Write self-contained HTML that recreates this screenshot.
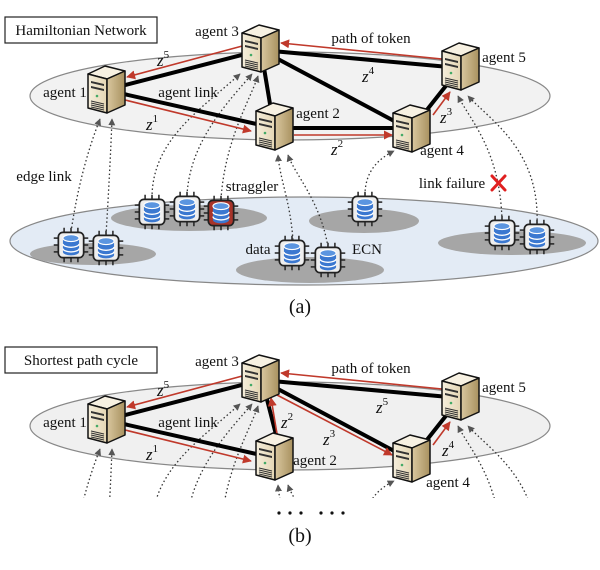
<!DOCTYPE html>
<html><head><meta charset="utf-8"><style>
html,body{margin:0;padding:0;background:#fff;}
svg{display:block;}
text{font-family:"Liberation Serif",serif;fill:#111;}
.lbl{font-size:15px;}
.z{font-size:17px;font-style:italic;}
.sup{font-size:11px;font-style:normal;}
</style></head><body>
<svg width="600" height="570" viewBox="0 0 600 570" xmlns="http://www.w3.org/2000/svg">
<defs>
  <linearGradient id="side" x1="0" x2="1"><stop offset="0" stop-color="#d9c79f"/><stop offset="1" stop-color="#a8915f"/></linearGradient>
  <linearGradient id="front" x1="0" x2="1"><stop offset="0" stop-color="#f5eedc"/><stop offset="1" stop-color="#e4d6b4"/></linearGradient>
  <g id="srv">
    <polygon points="0,8 17,0 37,5 19,13" fill="#f7f1e2" stroke="#111" stroke-width="1.5" stroke-linejoin="round"/>
    <polygon points="0,8 19,13 19,47 0,42" fill="url(#front)" stroke="#111" stroke-width="1.5" stroke-linejoin="round"/>
    <polygon points="19,13 37,5 37,39 19,47" fill="url(#side)" stroke="#111" stroke-width="1.5" stroke-linejoin="round"/>
    <polygon points="3,15 16,18 16,20 3,17" fill="#333"/>
    <polygon points="3,20 16,23 16,25 3,22" fill="#333"/>
    <circle cx="9" cy="30" r="1.3" fill="#4a6"/>
    <g stroke="#333" stroke-width="1"><line x1="3" y1="35" x2="16" y2="38"/><line x1="3" y1="37" x2="16" y2="40"/><line x1="3" y1="39" x2="16" y2="42"/><line x1="3" y1="41" x2="16" y2="44"/></g>
  </g>
  <g id="pins" stroke="#222" stroke-width="1.3">
    <line x1="-6" y1="-15" x2="-6" y2="-11"/><line x1="0" y1="-15" x2="0" y2="-11"/><line x1="6" y1="-15" x2="6" y2="-11"/>
    <line x1="-6" y1="11" x2="-6" y2="15"/><line x1="0" y1="11" x2="0" y2="15"/><line x1="6" y1="11" x2="6" y2="15"/>
    <line x1="-15" y1="-6" x2="-11" y2="-6"/><line x1="-15" y1="0" x2="-11" y2="0"/><line x1="-15" y1="6" x2="-11" y2="6"/>
    <line x1="11" y1="-6" x2="15" y2="-6"/><line x1="11" y1="0" x2="15" y2="0"/><line x1="11" y1="6" x2="15" y2="6"/>
  </g>
  <g id="db">
    <ellipse cx="0" cy="6" rx="7" ry="3" fill="#3b78d0"/>
    <rect x="-7" y="-6" width="14" height="12" fill="#3b78d0"/>
    <path d="M-7,-1 a7,3 0 0 0 14,0 M-7,3 a7,3 0 0 0 14,0" fill="none" stroke="#fff" stroke-width="1.2"/>
    <ellipse cx="0" cy="-6" rx="7" ry="3" fill="#5b95e0" stroke="#fff" stroke-width="1"/>
  </g>
  <g id="chip0">
    <use href="#pins"/>
    <rect x="-11" y="-11" width="22" height="22" rx="4" fill="#eeeeee" stroke="#222" stroke-width="1.5"/>
    <use href="#db"/>
  </g>
  <g id="chip"><g transform="scale(1.15)"><use href="#chip0"/></g></g>
  <g id="chipR"><g transform="scale(1.15)">
    <use href="#pins"/>
    <rect x="-11" y="-11" width="22" height="22" rx="4" fill="#a8342a" stroke="#222" stroke-width="1.5"/>
    <use href="#db"/>
  </g></g>
  <marker id="ar" viewBox="0 0 10 10" refX="9" refY="5" markerWidth="9" markerHeight="9" markerUnits="userSpaceOnUse" orient="auto"><path d="M0,0 L10,5 L0,10 z" fill="#c0392b"/></marker>
  <marker id="ag" viewBox="0 0 10 10" refX="9" refY="5" markerWidth="7" markerHeight="7" markerUnits="userSpaceOnUse" orient="auto"><path d="M0,0 L10,5 L0,10 z" fill="#555"/></marker>
  <g id="dots" fill="none" stroke="#333" stroke-width="1.3" stroke-dasharray="1.5,2.5" marker-end="url(#ag)">
    <path d="M71,232 Q80,170 100,119"/>
    <path d="M106,235 Q110,170 112,119"/>
    <path d="M152,198 C152,140 200,110 240,74"/>
    <path d="M187,195 C190,140 230,100 252,74"/>
    <path d="M221,199 C225,140 250,100 258,76"/>
    <path d="M293,240 C290,200 280,180 278,155"/>
    <path d="M328,247 C320,200 295,175 288,155"/>
    <path d="M365,195 C365,170 380,158 394,151"/>
    <path d="M502,220 C500,150 470,120 458,96"/>
    <path d="M537,224 C540,150 490,120 468,96"/>
  </g>
  <clipPath id="cb"><rect x="0" y="330" width="600" height="168"/></clipPath>
</defs>

<!-- ===== (a) ===== -->
<ellipse cx="304" cy="241" rx="294" ry="44" fill="#e3ebf5" stroke="#888" stroke-width="1.2"/>
<ellipse cx="93" cy="254" rx="63" ry="11" fill="#a6a6a6"/>
<ellipse cx="189" cy="218" rx="78" ry="13" fill="#a6a6a6"/>
<ellipse cx="310" cy="270" rx="74" ry="13" fill="#a6a6a6"/>
<ellipse cx="364" cy="221" rx="55" ry="12" fill="#a6a6a6"/>
<ellipse cx="512" cy="243" rx="74" ry="12" fill="#a6a6a6"/>
<use href="#chip" x="71" y="245"/><use href="#chip" x="106" y="248"/>
<use href="#chip" x="152" y="212"/><use href="#chip" x="187" y="209"/><use href="#chipR" x="221" y="213"/>
<use href="#chip" x="365" y="209"/>
<use href="#chip" x="292" y="253"/><use href="#chip" x="328" y="260"/>
<use href="#chip" x="502" y="233"/><use href="#chip" x="537" y="237"/>

<ellipse cx="290" cy="96" rx="260" ry="44" fill="#f0f0f0" fill-opacity="0.85" stroke="#888" stroke-width="1.2"/>
<use href="#dots"/>

<g stroke="#000" stroke-width="4" stroke-linecap="round">
  <line x1="106" y1="90" x2="261" y2="50"/><line x1="106" y1="90" x2="274" y2="128"/>
  <line x1="261" y1="50" x2="274" y2="128"/><line x1="261" y1="50" x2="460" y2="68"/>
  <line x1="261" y1="50" x2="411" y2="130"/><line x1="274" y1="128" x2="411" y2="128"/>
  <line x1="411" y1="130" x2="460" y2="68"/>
</g>
<g stroke="#c0392b" stroke-width="1.6" marker-end="url(#ar)">
  <line x1="246" y1="45" x2="127" y2="77"/>
  <line x1="125" y1="100" x2="251" y2="131"/>
  <line x1="294" y1="135" x2="392" y2="135"/>
  <line x1="433" y1="115" x2="450" y2="92"/>
  <line x1="442" y1="59" x2="281" y2="43"/>
</g>
<use href="#srv" x="88" y="66"/><use href="#srv" x="242" y="25"/><use href="#srv" x="256" y="103"/>
<use href="#srv" x="393" y="105"/><use href="#srv" x="442" y="43"/>

<rect x="5" y="17" width="152" height="26" fill="#fff" stroke="#222" stroke-width="1.2"/>
<text x="81" y="35" class="lbl" text-anchor="middle">Hamiltonian Network</text>
<text x="217" y="36" class="lbl" text-anchor="middle">agent 3</text>
<text x="371" y="43" class="lbl" text-anchor="middle">path of token</text>
<text x="504" y="62" class="lbl" text-anchor="middle">agent 5</text>
<text x="65" y="97" class="lbl" text-anchor="middle">agent 1</text>
<text x="188" y="97" class="lbl" text-anchor="middle">agent link</text>
<text x="318" y="118" class="lbl" text-anchor="middle">agent 2</text>
<text x="442" y="155" class="lbl" text-anchor="middle">agent 4</text>
<text x="157" y="66" class="z">z<tspan class="sup" dy="-8">5</tspan></text>
<text x="146" y="130" class="z">z<tspan class="sup" dy="-8">1</tspan></text>
<text x="331" y="155" class="z">z<tspan class="sup" dy="-8">2</tspan></text>
<text x="362" y="82" class="z">z<tspan class="sup" dy="-8">4</tspan></text>
<text x="440" y="123" class="z">z<tspan class="sup" dy="-8">3</tspan></text>
<text x="44" y="181" class="lbl" text-anchor="middle">edge link</text>
<text x="252" y="191" class="lbl" text-anchor="middle">straggler</text>
<text x="452" y="188" class="lbl" text-anchor="middle">link failure</text>
<g stroke="#e02020" stroke-width="3" stroke-linecap="round"><line x1="492" y1="176" x2="505" y2="190"/><line x1="505" y1="176" x2="492" y2="190"/></g>
<text x="258" y="254" class="lbl" text-anchor="middle">data</text>
<text x="367" y="254" class="lbl" text-anchor="middle">ECN</text>
<text x="300" y="313" style="font-size:20px" text-anchor="middle">(a)</text>

<!-- ===== (b) ===== -->
<ellipse cx="290" cy="426" rx="260" ry="44" fill="#f0f0f0" stroke="#888" stroke-width="1.2"/>
<g clip-path="url(#cb)"><use href="#dots" y="330"/></g>
<g stroke="#000" stroke-width="4" stroke-linecap="round">
  <line x1="106" y1="420" x2="261" y2="380"/><line x1="106" y1="420" x2="274" y2="458"/>
  <line x1="262" y1="380" x2="282" y2="458"/><line x1="261" y1="380" x2="460" y2="398"/>
  <line x1="261" y1="380" x2="411" y2="460"/><line x1="411" y1="460" x2="460" y2="398"/>
</g>
<g stroke="#c0392b" stroke-width="1.6" marker-end="url(#ar)">
  <line x1="246" y1="375" x2="127" y2="407"/>
  <line x1="125" y1="430" x2="251" y2="461"/>
  <line x1="277" y1="434" x2="271" y2="398"/>
  <line x1="277" y1="395" x2="392" y2="455"/>
  <line x1="433" y1="445" x2="450" y2="422"/>
  <line x1="442" y1="389" x2="281" y2="373"/>
</g>
<use href="#srv" x="88" y="396"/><use href="#srv" x="242" y="355"/><use href="#srv" x="256" y="433"/>
<use href="#srv" x="393" y="435"/><use href="#srv" x="442" y="373"/>

<rect x="5" y="347" width="152" height="26" fill="#fff" stroke="#222" stroke-width="1.2"/>
<text x="81" y="365" class="lbl" text-anchor="middle">Shortest path cycle</text>
<text x="217" y="366" class="lbl" text-anchor="middle">agent 3</text>
<text x="371" y="373" class="lbl" text-anchor="middle">path of token</text>
<text x="504" y="392" class="lbl" text-anchor="middle">agent 5</text>
<text x="65" y="427" class="lbl" text-anchor="middle">agent 1</text>
<text x="188" y="427" class="lbl" text-anchor="middle">agent link</text>
<text x="315" y="465" class="lbl" text-anchor="middle">agent 2</text>
<text x="448" y="487" class="lbl" text-anchor="middle">agent 4</text>
<text x="157" y="396" class="z">z<tspan class="sup" dy="-8">5</tspan></text>
<text x="146" y="460" class="z">z<tspan class="sup" dy="-8">1</tspan></text>
<text x="281" y="428" class="z">z<tspan class="sup" dy="-8">2</tspan></text>
<text x="323" y="445" class="z">z<tspan class="sup" dy="-8">3</tspan></text>
<text x="376" y="413" class="z">z<tspan class="sup" dy="-8">5</tspan></text>
<text x="442" y="456" class="z">z<tspan class="sup" dy="-8">4</tspan></text>
<g fill="#111"><circle cx="279" cy="513" r="1.6"/><circle cx="290" cy="513" r="1.6"/><circle cx="301" cy="513" r="1.6"/>
<circle cx="321" cy="513" r="1.6"/><circle cx="332" cy="513" r="1.6"/><circle cx="343" cy="513" r="1.6"/></g>
<text x="300" y="542" style="font-size:20px" text-anchor="middle">(b)</text>
</svg>
</body></html>
